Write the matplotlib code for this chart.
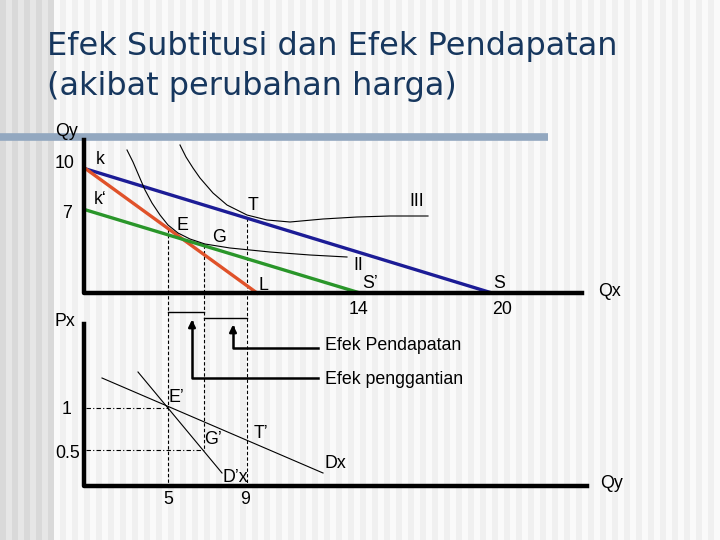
import numpy as np
import matplotlib.pyplot as plt

# diagram drawn in slide pixel units (x right, y down)
title_lines = ["Efek Subtitusi dan Efek Pendapatan", "(akibat perubahan harga)"]

# upper panel: budget lines (start, end)
budget_kS = [(86, 169), (492, 293)]     # new budget line k-S
budget_kL = [(86, 169), (257, 293)]     # original budget line k-L
budget_KS2 = [(86, 210), (360, 293)]    # compensated line K'-S'

# indifference curves
curve_II_x = [127, 133, 139, 145, 152, 160, 168, 178, 190, 205, 230, 270, 310, 347]
curve_II_y = [150, 162, 176, 190, 203, 215, 225, 233, 239, 244, 248, 252, 255, 257]
curve_III_x = [180, 186, 193, 200, 213, 227, 247, 267, 290, 323, 357, 390, 428]
curve_III_y = [145, 157, 168, 178, 193, 205, 215, 220, 222, 219, 217, 216, 216]

# points
E = (168, 229)
G = (204, 245)
T = (247, 218)
E2 = (168, 408)
G2 = (204, 450)
base_y = 485

# lower panel: demand curves
Dx = [(102, 378), (323, 473)]
D2x = [(138, 372), (222, 473)]

labels = [("Qy", 55, 131, "left"), ("10", 55, 163, "left"), ("k", 96, 159, "left"),
          ("7", 67, 213, "center"), ("k\u2018", 94, 200, "left"), ("E", 176, 226, "left"),
          ("G", 212, 237, "left"), ("T", 248, 206, "left"), ("III", 409, 201, "left"),
          ("II", 353, 266, "left"), ("S\u2019", 362, 284, "left"), ("L", 258, 285, "left"),
          ("14", 358, 309, "center"), ("S", 493, 283, "left"), ("20", 502, 309, "center"),
          ("Qx", 598, 292, "left"), ("Px", 55, 322, "left"), ("1", 67, 410, "center"),
          ("0.5", 55, 453, "left"), ("E\u2019", 168, 398, "left"), ("G\u2019", 204, 440, "left"),
          ("T\u2019", 254, 434, "left"), ("D\u2019x", 223, 477, "left"), ("Dx", 324, 463, "left"),
          ("5", 168, 500, "center"), ("9", 245, 500, "center"), ("Qy", 600, 484, "left")]

fig = plt.figure(figsize=(7.2, 5.4), dpi=100)
ax = fig.add_axes([0, 0, 1, 1])
ax.set_xlim(0, 720)
ax.set_ylim(540, 0)
ax.axis("off")

# striped slide background
for i, x0 in enumerate(np.arange(0, 720, 6)):
    if x0 < 54:
        c = "#d9d9d9" if i % 2 == 0 else "#e6e6e6"
    else:
        c = "#f0f0f0" if i % 2 == 0 else "#fafafa"
    ax.axvspan(x0, x0 + 6, color=c, lw=0, zorder=0)
ax.plot([0, 548], [137, 137], color="#93a8c0", lw=5.5, solid_capstyle="butt", zorder=1)

ax.text(47, 47, title_lines[0], fontsize=23, color="#17375e", va="center",
        family="DejaVu Sans")
ax.text(47, 86, title_lines[1], fontsize=23, color="#17375e", va="center",
        family="DejaVu Sans")

# axes
ax.plot([84, 84, 582], [140, 293, 293], color="black", lw=3.2, zorder=4)
ax.plot([84, 84, 587], [324, 486, 486], color="black", lw=3.2, zorder=4)

# budget lines
for seg, col in [(budget_kS, "#1c1c96"), (budget_kL, "#e0522a"), (budget_KS2, "#2a962a")]:
    ax.plot([seg[0][0], seg[1][0]], [seg[0][1], seg[1][1]], color=col, lw=2.4, zorder=3)

ax.plot(curve_II_x, curve_II_y, color="black", lw=0.8, zorder=3)
ax.plot(curve_III_x, curve_III_y, color="black", lw=0.8, zorder=3)

# dashed projections
ax.plot([E[0], E[0]], [E[1], base_y], "k--", lw=0.8, dashes=(3, 2))
ax.plot([G[0], G[0]], [G[1], G2[1]], "k--", lw=0.8, dashes=(3, 2))
ax.plot([T[0], T[0]], [T[1], base_y], "k--", lw=0.8, dashes=(3, 2))
ax.plot([86, E2[0]], [E2[1], E2[1]], "k", lw=0.8, dashes=(4, 2, 1, 2))
ax.plot([86, G2[0]], [G2[1], G2[1]], "k", lw=0.8, dashes=(4, 2, 1, 2))

# demand curves
for seg in (Dx, D2x):
    ax.plot([seg[0][0], seg[1][0]], [seg[0][1], seg[1][1]], color="black", lw=0.8)

# effect brackets and arrows
ax.plot([E[0], G[0]], [312, 312], color="black", lw=1)
ax.plot([G[0], T[0]], [318, 318], color="black", lw=1)
ax.plot([192, 192, 318], [322, 378, 378], color="black", lw=1.8)
ax.plot([233, 233, 318], [327, 348, 348], color="black", lw=1.8)
ax.annotate("", xy=(192, 317), xytext=(192, 330),
            arrowprops=dict(arrowstyle="-|>", color="black", lw=1.8, mutation_scale=10))
ax.annotate("", xy=(233, 322), xytext=(233, 335),
            arrowprops=dict(arrowstyle="-|>", color="black", lw=1.8, mutation_scale=10))
ax.text(325, 345, "Efek Pendapatan", fontsize=12.8, va="center", family="Liberation Sans")
ax.text(325, 380, "Efek penggantian", fontsize=12.8, va="center", family="Liberation Sans")

for txt, x, y, ha in labels:
    ax.text(x, y, txt, fontsize=12.8, va="center", ha=ha, family="Liberation Sans", zorder=5)

fig.savefig("out.png", dpi=100)
